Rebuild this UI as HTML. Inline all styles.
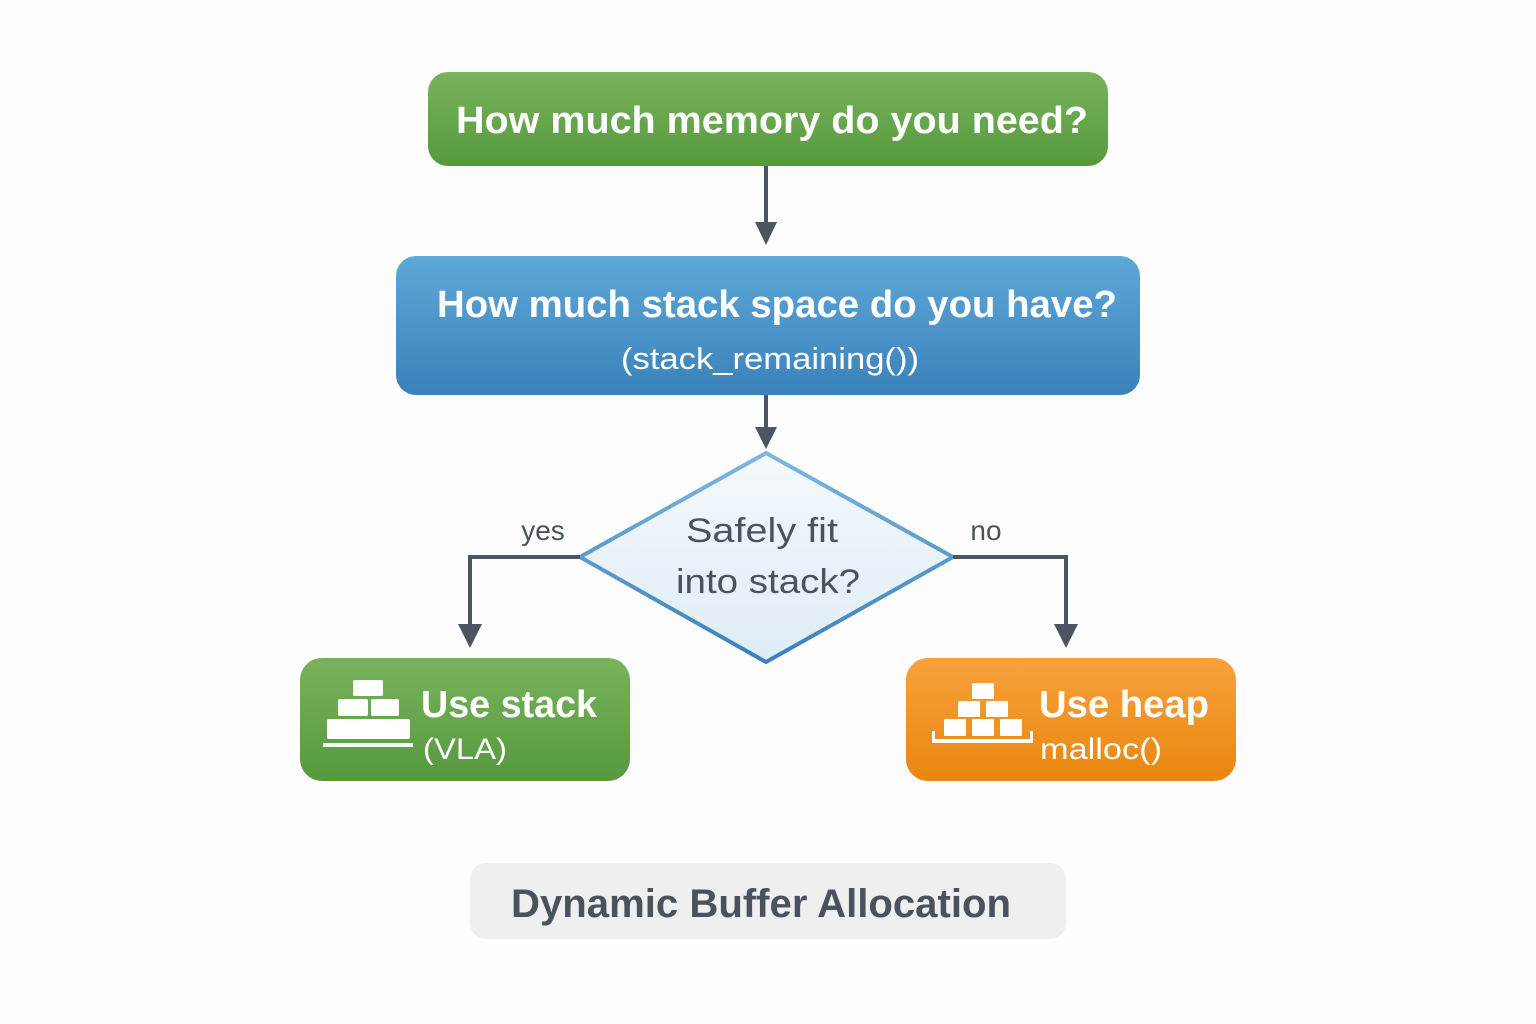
<!DOCTYPE html>
<html><head><meta charset="utf-8"><style>
html,body{margin:0;padding:0;background:#fdfdfd;}
svg{display:block;}
text{font-family:"Liberation Sans",sans-serif;}
</style></head><body>
<svg width="1536" height="1024" viewBox="0 0 1536 1024" xmlns="http://www.w3.org/2000/svg">
<defs>
<linearGradient id="g" x1="0" y1="0" x2="0" y2="1"><stop offset="0" stop-color="#78b35c"/><stop offset="1" stop-color="#56993e"/></linearGradient>
<linearGradient id="b" x1="0" y1="0" x2="0" y2="1"><stop offset="0" stop-color="#5ea8d8"/><stop offset="1" stop-color="#3b81ba"/></linearGradient>
<linearGradient id="o" x1="0" y1="0" x2="0" y2="1"><stop offset="0" stop-color="#f7a23d"/><stop offset="1" stop-color="#e9860f"/></linearGradient>
<linearGradient id="d" x1="0" y1="0" x2="0" y2="1"><stop offset="0" stop-color="#f4f8fb"/><stop offset="1" stop-color="#dfecf5"/></linearGradient>
<linearGradient id="ds" x1="0" y1="0" x2="0" y2="1"><stop offset="0" stop-color="#7cb7df"/><stop offset="1" stop-color="#3a80b9"/></linearGradient>
</defs>
<rect width="1536" height="1024" fill="#fdfdfd"/>
<!-- top -->
<rect x="428" y="72" width="680" height="94" rx="20" fill="url(#g)"/>
<text x="772" y="133" font-size="38" font-weight="bold" fill="#fff" text-anchor="middle" textLength="632" lengthAdjust="spacingAndGlyphs">How much memory do you need?</text>
<line x1="766" y1="166" x2="766" y2="225" stroke="#4d5660" stroke-width="4"/>
<polygon points="755,222 777,222 766,245" fill="#4d5660"/>
<!-- blue -->
<rect x="396" y="256" width="744" height="139" rx="20" fill="url(#b)"/>
<text x="777" y="317" font-size="38" font-weight="bold" fill="#fff" text-anchor="middle" textLength="680" lengthAdjust="spacingAndGlyphs">How much stack space do you have?</text>
<text x="770" y="369" font-size="31" fill="#fff" text-anchor="middle" textLength="298" lengthAdjust="spacingAndGlyphs">(stack_remaining())</text>
<line x1="766" y1="395" x2="766" y2="430" stroke="#4d5660" stroke-width="4"/>
<polygon points="755,427 777,427 766,449" fill="#4d5660"/>
<!-- diamond -->
<polygon points="766,453 953,557 766,662 580,557" fill="url(#d)" stroke="url(#ds)" stroke-width="4"/>
<text x="762" y="542" font-size="34" fill="#4a535d" text-anchor="middle" textLength="152" lengthAdjust="spacingAndGlyphs">Safely fit</text>
<text x="768" y="593" font-size="34" fill="#4a535d" text-anchor="middle" textLength="184" lengthAdjust="spacingAndGlyphs">into stack?</text>
<!-- branches -->
<polyline points="580,557 470,557 470,628" fill="none" stroke="#4d5660" stroke-width="4"/>
<polygon points="458,624 482,624 470,648" fill="#4d5660"/>
<polyline points="953,557 1066,557 1066,628" fill="none" stroke="#4d5660" stroke-width="4"/>
<polygon points="1054,624 1078,624 1066,648" fill="#4d5660"/>
<text x="543" y="540" font-size="28" fill="#4a535d" text-anchor="middle">yes</text>
<text x="986" y="540" font-size="28" fill="#4a535d" text-anchor="middle">no</text>
<!-- left box -->
<rect x="300" y="658" width="330" height="123" rx="22" fill="url(#g)"/>
<g fill="#fff">
<rect x="353" y="680" width="30" height="16" rx="2"/>
<rect x="338" y="699" width="30" height="17" rx="2"/>
<rect x="371" y="699" width="28" height="17" rx="2"/>
<rect x="327" y="719" width="83" height="20" rx="2"/>
<rect x="323" y="743" width="90" height="4"/>
</g>
<text x="421" y="717" font-size="38" font-weight="bold" fill="#fff" textLength="176" lengthAdjust="spacingAndGlyphs">Use stack</text>
<text x="423" y="759" font-size="30" fill="#fff" textLength="84" lengthAdjust="spacingAndGlyphs">(VLA)</text>
<!-- right box -->
<rect x="906" y="658" width="330" height="123" rx="22" fill="url(#o)"/>
<g fill="#fff">
<rect x="972" y="683" width="22" height="16" rx="1"/>
<rect x="958" y="701" width="22" height="16" rx="1"/>
<rect x="986" y="701" width="22" height="16" rx="1"/>
<rect x="944" y="719" width="22" height="17" rx="1"/>
<rect x="972" y="719" width="22" height="17" rx="1"/>
<rect x="1000" y="719" width="22" height="17" rx="1"/>
<rect x="932" y="739" width="101" height="4"/>
<rect x="932" y="731" width="3" height="10"/>
<rect x="1030" y="731" width="3" height="10"/>
</g>
<text x="1039" y="717" font-size="38" font-weight="bold" fill="#fff" textLength="170" lengthAdjust="spacingAndGlyphs">Use heap</text>
<text x="1040" y="759" font-size="30" fill="#fff" textLength="122" lengthAdjust="spacingAndGlyphs">malloc()</text>
<!-- caption -->
<rect x="470" y="863" width="596" height="76" rx="16" fill="#efefef"/>
<text x="761" y="917" font-size="40" font-weight="bold" fill="#4a535d" text-anchor="middle" textLength="500" lengthAdjust="spacingAndGlyphs">Dynamic Buffer Allocation</text>
</svg>
</body></html>
